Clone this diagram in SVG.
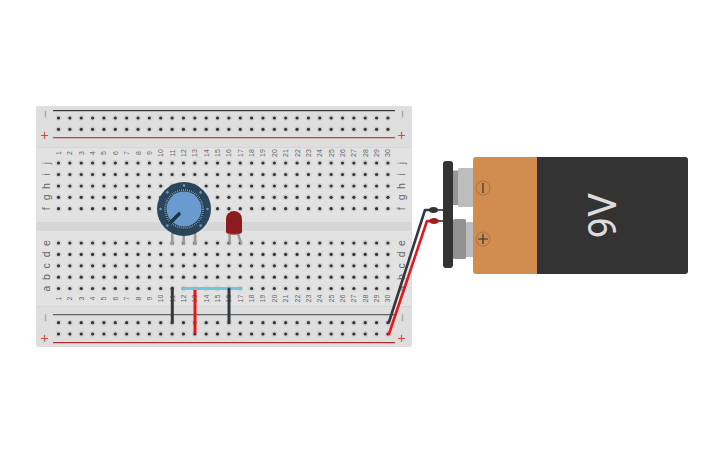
<svg xmlns="http://www.w3.org/2000/svg" xmlns:xlink="http://www.w3.org/1999/xlink" width="725" height="453" viewBox="0 0 725 453">
<style>
.n{font:7px "Liberation Sans",sans-serif;fill:#666;text-anchor:middle;dominant-baseline:central}
.l{font:10.500px "Liberation Sans",sans-serif;fill:#666;text-anchor:middle;dominant-baseline:central}
.s{font:14px "Liberation Sans",sans-serif;text-anchor:middle;dominant-baseline:central}
.w{fill:none;stroke-linecap:round;stroke-linejoin:round}
</style>
<defs>
<g id="h"><circle r="3" fill="#c4c4c4" opacity=".55"/><circle r="1.600" fill="#333"/></g>
<g id="row">
<use href="#h" x="58.5"/><use href="#h" x="69.86"/><use href="#h" x="81.22"/><use href="#h" x="92.58"/><use href="#h" x="103.94"/><use href="#h" x="115.3"/><use href="#h" x="126.66"/><use href="#h" x="138.02"/><use href="#h" x="149.38"/><use href="#h" x="160.74"/><use href="#h" x="172.1"/><use href="#h" x="183.46"/><use href="#h" x="194.82"/><use href="#h" x="206.18"/><use href="#h" x="217.54"/><use href="#h" x="228.9"/><use href="#h" x="240.26"/><use href="#h" x="251.62"/><use href="#h" x="262.98"/><use href="#h" x="274.34"/><use href="#h" x="285.7"/><use href="#h" x="297.06"/><use href="#h" x="308.42"/><use href="#h" x="319.78"/><use href="#h" x="331.14"/><use href="#h" x="342.5"/><use href="#h" x="353.86"/><use href="#h" x="365.22"/><use href="#h" x="376.58"/><use href="#h" x="387.94"/>
</g>
</defs>
<rect width="725" height="453" fill="#fff"/>
<g id="breadboard">
<rect x="36" y="106" width="376" height="241" rx="2" fill="#dedede"/>
<rect x="37" y="148" width="374" height="158" fill="#e2e2e2"/>
<rect x="37" y="147" width="374" height="1" fill="#d6d6d6"/>
<rect x="37" y="306" width="374" height="1" fill="#d6d6d6"/>
<rect x="37" y="222" width="374" height="9" fill="#d6d6d6"/>
<rect x="53" y="110" width="342" height="1.2" fill="#333"/>
<rect x="53" y="137" width="342" height="1.3" fill="#c8423f"/>
<rect x="53" y="314" width="342" height="1.3" fill="#666"/>
<rect x="53" y="342" width="342" height="1.2" fill="#b02a2a"/>
<use href="#row" y="118"/><use href="#row" y="129.3"/>
<use href="#row" y="163"/><use href="#row" y="174.5"/><use href="#row" y="186"/><use href="#row" y="197.3"/><use href="#row" y="208.7"/>
<use href="#row" y="243"/><use href="#row" y="254.4"/><use href="#row" y="265.8"/><use href="#row" y="277.2"/><use href="#row" y="288.5"/>
<use href="#row" y="322.7"/><use href="#row" y="334"/>
<g id="signs">
<text class="s" fill="#999" transform="translate(44.5 114.500) rotate(-90)">−</text>
<text class="s" fill="#d9423f" x="44.500" y="134.500">+</text>
<text class="s" fill="#999" transform="translate(401.5 114.500) rotate(-90)">−</text>
<text class="s" fill="#d9423f" x="401.500" y="134.500">+</text>
<text class="s" fill="#999" transform="translate(44.5 318) rotate(-90)">−</text>
<text class="s" fill="#d9423f" x="44.500" y="338">+</text>
<text class="s" fill="#999" transform="translate(401.5 318) rotate(-90)">−</text>
<text class="s" fill="#d9423f" x="401.500" y="338">+</text>
</g>
<g id="letters">
<text class="l" transform="translate(46 163) rotate(-90)">j</text><text class="l" transform="translate(46 174.5) rotate(-90)">i</text><text class="l" transform="translate(46 186) rotate(-90)">h</text><text class="l" transform="translate(46 197.3) rotate(-90)">g</text><text class="l" transform="translate(46 208.7) rotate(-90)">f</text>
<text class="l" transform="translate(46 243) rotate(-90)">e</text><text class="l" transform="translate(46 254.4) rotate(-90)">d</text><text class="l" transform="translate(46 265.8) rotate(-90)">c</text><text class="l" transform="translate(46 277.2) rotate(-90)">b</text><text class="l" transform="translate(46 288.5) rotate(-90)">a</text>
<text class="l" transform="translate(401 163) rotate(-90)">j</text><text class="l" transform="translate(401 174.5) rotate(-90)">i</text><text class="l" transform="translate(401 186) rotate(-90)">h</text><text class="l" transform="translate(401 197.3) rotate(-90)">g</text><text class="l" transform="translate(401 208.7) rotate(-90)">f</text>
<text class="l" transform="translate(401 243) rotate(-90)">e</text><text class="l" transform="translate(401 254.4) rotate(-90)">d</text><text class="l" transform="translate(401 265.8) rotate(-90)">c</text><text class="l" transform="translate(401 277.2) rotate(-90)">b</text><text class="l" transform="translate(401 288.5) rotate(-90)">a</text>
</g>
<g id="numbers-top">
<text class="n" transform="translate(58.5 153) rotate(-90)">1</text><text class="n" transform="translate(69.86 153) rotate(-90)">2</text><text class="n" transform="translate(81.22 153) rotate(-90)">3</text><text class="n" transform="translate(92.58 153) rotate(-90)">4</text><text class="n" transform="translate(103.94 153) rotate(-90)">5</text><text class="n" transform="translate(115.3 153) rotate(-90)">6</text><text class="n" transform="translate(126.66 153) rotate(-90)">7</text><text class="n" transform="translate(138.02 153) rotate(-90)">8</text><text class="n" transform="translate(149.38 153) rotate(-90)">9</text><text class="n" transform="translate(160.74 153) rotate(-90)">10</text><text class="n" transform="translate(172.1 153) rotate(-90)">11</text><text class="n" transform="translate(183.46 153) rotate(-90)">12</text><text class="n" transform="translate(194.82 153) rotate(-90)">13</text><text class="n" transform="translate(206.18 153) rotate(-90)">14</text><text class="n" transform="translate(217.54 153) rotate(-90)">15</text><text class="n" transform="translate(228.9 153) rotate(-90)">16</text><text class="n" transform="translate(240.26 153) rotate(-90)">17</text><text class="n" transform="translate(251.62 153) rotate(-90)">18</text><text class="n" transform="translate(262.98 153) rotate(-90)">19</text><text class="n" transform="translate(274.34 153) rotate(-90)">20</text><text class="n" transform="translate(285.7 153) rotate(-90)">21</text><text class="n" transform="translate(297.06 153) rotate(-90)">22</text><text class="n" transform="translate(308.42 153) rotate(-90)">23</text><text class="n" transform="translate(319.78 153) rotate(-90)">24</text><text class="n" transform="translate(331.14 153) rotate(-90)">25</text><text class="n" transform="translate(342.5 153) rotate(-90)">26</text><text class="n" transform="translate(353.86 153) rotate(-90)">27</text><text class="n" transform="translate(365.22 153) rotate(-90)">28</text><text class="n" transform="translate(376.58 153) rotate(-90)">29</text><text class="n" transform="translate(387.94 153) rotate(-90)">30</text>
</g>
<g id="numbers-bottom">
<text class="n" transform="translate(58.5 298.5) rotate(-90)">1</text><text class="n" transform="translate(69.86 298.5) rotate(-90)">2</text><text class="n" transform="translate(81.22 298.5) rotate(-90)">3</text><text class="n" transform="translate(92.58 298.5) rotate(-90)">4</text><text class="n" transform="translate(103.94 298.5) rotate(-90)">5</text><text class="n" transform="translate(115.3 298.5) rotate(-90)">6</text><text class="n" transform="translate(126.66 298.5) rotate(-90)">7</text><text class="n" transform="translate(138.02 298.5) rotate(-90)">8</text><text class="n" transform="translate(149.38 298.5) rotate(-90)">9</text><text class="n" transform="translate(160.74 298.5) rotate(-90)">10</text><text class="n" transform="translate(172.1 298.5) rotate(-90)">11</text><text class="n" transform="translate(183.46 298.5) rotate(-90)">12</text><text class="n" transform="translate(194.82 298.5) rotate(-90)">13</text><text class="n" transform="translate(206.18 298.5) rotate(-90)">14</text><text class="n" transform="translate(217.54 298.5) rotate(-90)">15</text><text class="n" transform="translate(228.9 298.5) rotate(-90)">16</text><text class="n" transform="translate(240.26 298.5) rotate(-90)">17</text><text class="n" transform="translate(251.62 298.5) rotate(-90)">18</text><text class="n" transform="translate(262.98 298.5) rotate(-90)">19</text><text class="n" transform="translate(274.34 298.5) rotate(-90)">20</text><text class="n" transform="translate(285.7 298.5) rotate(-90)">21</text><text class="n" transform="translate(297.06 298.5) rotate(-90)">22</text><text class="n" transform="translate(308.42 298.5) rotate(-90)">23</text><text class="n" transform="translate(319.78 298.5) rotate(-90)">24</text><text class="n" transform="translate(331.14 298.5) rotate(-90)">25</text><text class="n" transform="translate(342.5 298.5) rotate(-90)">26</text><text class="n" transform="translate(353.86 298.5) rotate(-90)">27</text><text class="n" transform="translate(365.22 298.5) rotate(-90)">28</text><text class="n" transform="translate(376.58 298.5) rotate(-90)">29</text><text class="n" transform="translate(387.94 298.5) rotate(-90)">30</text>
</g>
</g>
<g id="potentiometer">
<rect x="171" y="232" width="2.6" height="13" fill="#9a9a9a"/><rect x="182.4" y="232" width="2.6" height="13" fill="#9a9a9a"/><rect x="193.8" y="232" width="2.6" height="13" fill="#9a9a9a"/>
<circle cx="184" cy="209" r="27" fill="#2a465c"/>
<circle cx="184" cy="209" r="20.500" fill="#1f3547"/>
<circle cx="184" cy="209" r="19" fill="none" stroke="#7f98ab" stroke-width="2" stroke-dasharray="1 1"/>
<circle cx="184" cy="209" r="17.5" fill="#6a9bcf"/>
<g fill="#6f97b5"><circle cx="184" cy="185.5" r="1.3"/><circle cx="167.4" cy="192.4" r="1.3"/><circle cx="200.6" cy="192.4" r="1.3"/><circle cx="160.5" cy="209" r="1.3"/><circle cx="207.5" cy="209" r="1.3"/><circle cx="167.4" cy="225.6" r="1.3"/><circle cx="200.6" cy="225.6" r="1.3"/></g>
<path d="M171 222L179 214" class="w" stroke="#1f3547" stroke-width="3.6"/>
</g>
<g id="led">
<path d="M229.6 234V243" class="w" stroke="#999" stroke-width="2.4"/>
<path d="M238 234L241 243" class="w" stroke="#999" stroke-width="2.4"/>
<path d="M226 232V219a8 8 0 0 1 16 0V232a8 2.5 0 0 1-16 0Z" fill="#8c1d1f"/>
<path d="M226 231.5a8 2.5 0 0 0 16 0" fill="none" stroke="#a33a3a" stroke-width="1"/>
</g>
<g id="resistor">
<path d="M183.5 288.5H240.5" class="w" stroke="#6fc6d9" stroke-width="3"/>
</g>
<g id="connectors">
<path d="M172.3 288V322" class="w" stroke="#33383c" stroke-width="3"/>
<path d="M229 289V322" class="w" stroke="#33383c" stroke-width="3"/>
<path d="M195 290V334" stroke="#e4181c" stroke-width="3" fill="none"/>
<path d="M389 322L425 210H434" class="w" stroke="#33383c" stroke-width="2.600"/>
<path d="M389 334L427 221H436" class="w" stroke="#e4181c" stroke-width="2.600"/>
</g>
<g id="battery">
<path d="M436 210H445M438 221H445" stroke="#222" stroke-width="1.5"/>
<ellipse cx="433.5" cy="210" rx="4.5" ry="3" fill="#333"/>
<ellipse cx="434" cy="221" rx="5" ry="3" fill="#a51c1f"/>
<rect x="453" y="170.500" width="6" height="34.500" fill="#969696"/>
<rect x="458" y="168" width="16" height="39" rx="1.500" fill="#bdbdbd"/>
<rect x="465" y="222" width="9" height="35" fill="#bdbdbd"/>
<rect x="453" y="219" width="13" height="40" rx="1.500" fill="#929292"/>
<rect x="443" y="161" width="10" height="107" rx="3" fill="#333"/>
<path d="M537 157H685a3 3 0 0 1 3 3V271a3 3 0 0 1-3 3H537Z" fill="#333"/>
<path d="M537 157H476a3 3 0 0 0-3 3V271a3 3 0 0 0 3 3H537Z" fill="#d18d50"/>
<circle cx="483" cy="188" r="7" fill="none" stroke="#a9733f" stroke-width="1"/>
<circle cx="483" cy="239" r="7" fill="none" stroke="#a9733f" stroke-width="1"/>
<path d="M483 183V193" stroke="#333" stroke-width="1.200"/>
<path d="M483 234V244M478 239H488" stroke="#333" stroke-width="1.200"/>
<text transform="translate(616 215.500) rotate(-90)" font-family="Roboto,'Liberation Sans',sans-serif" font-size="38" fill="#dcdcdc" text-anchor="middle">9V</text>
</g>
</svg>
